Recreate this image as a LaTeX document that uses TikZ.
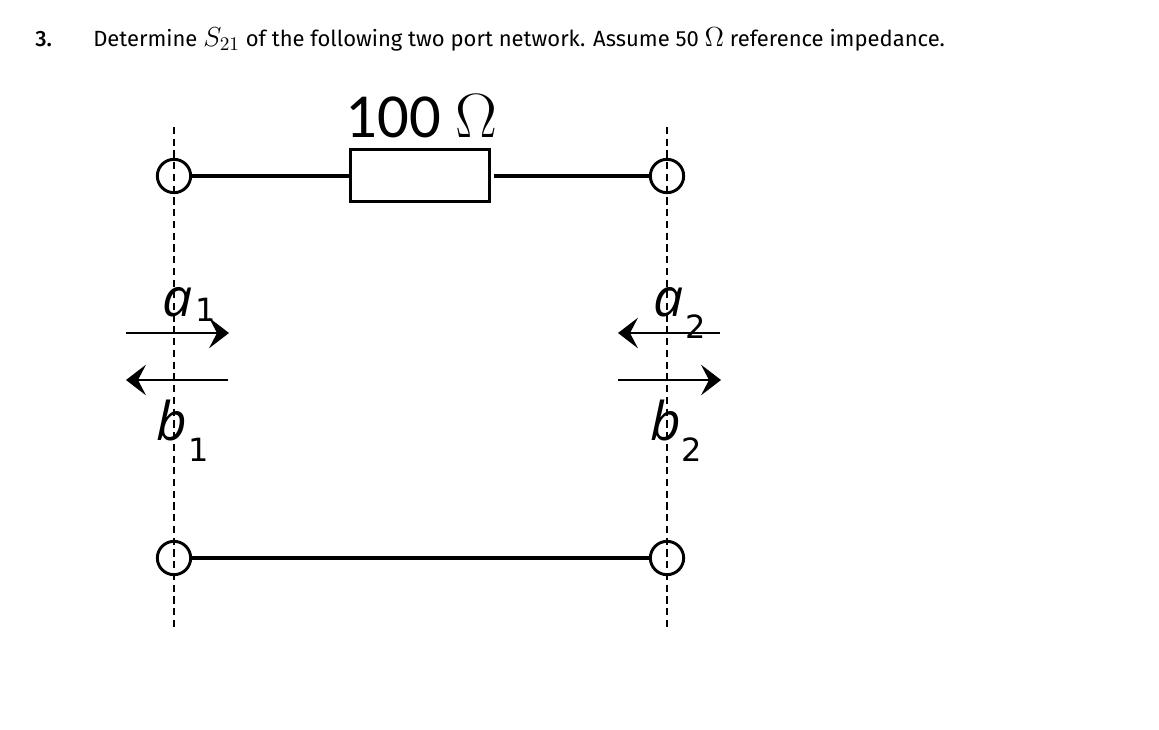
\RequirePackage{fix-cm}
\documentclass[tikz,border=0pt]{standalone}
\usepackage{fontspec}
\usepackage{amsmath}
\usepackage{graphicx}
\setmainfont{Fira Sans}[BoldFont={Fira Sans Medium}]
\newfontfamily\carl{Carlito}
\newfontfamily\dv{DejaVu Sans}
\newfontfamily\osans{Open Sans}
\usetikzlibrary{arrows.meta}
\tikzset{
  x=0.75pt,y=-0.75pt,
  port/.style={circle,draw,line width=2.2pt,minimum size=25pt,inner sep=0pt},
  wire/.style={line width=3pt},
  refline/.style={line width=1.1pt,dash pattern=on 5.4pt off 3.4pt},
  wave/.style={line width=1.1pt,-{Stealth[length=15pt,width=23pt,inset=6pt]}},
  txt/.style={inner sep=0pt,anchor=base west,font=\fontsize{16.5}{20}\selectfont},
  sym/.style={inner sep=0pt,font=\osans\itshape\fontsize{40}{46}\selectfont},
  sub/.style={inner sep=0pt,font=\dv\fontsize{24}{28}\selectfont},
}
\begin{document}
\begin{tikzpicture}
\useasboundingbox (0,0) rectangle (1159,729);
\fill[white] (0,0) rectangle (1159,729);
\node[txt,font=\bfseries\fontsize{16.6}{20}\selectfont] (num) at (35,46) {3.};
\node[txt] (q) at (93,46) {Determine \scalebox{1.25}{$S_{21}$} of the following two port network. Assume 50 \scalebox{1.25}{$\Omega$} reference impedance.};
\node[inner sep=0pt,font=\fontsize{47}{50}\selectfont] (rl) at (421.5,116) {\carl 100 $\Omega$};
\coordinate (t1) at (174,127); \coordinate (d1) at (174,628);
\coordinate (t2) at (667,127); \coordinate (d2) at (667,628);
\draw[refline] (t1) -- (d1);
\draw[refline] (t2) -- (d2);
\node[port] (p1) at (174,176) {};
\node[port] (p2) at (667,176) {};
\node[port] (p3) at (174,558) {};
\node[port] (p4) at (667,558) {};
\node[draw,line width=1.8pt,minimum width=104pt,minimum height=39pt,inner sep=0pt] (R) at (420,175.5) {};
\coordinate (rr) at (494,176);
\draw[wire] (p1.east) -- (R.west |- p1.east);
\draw[wire] (rr) -- (p2.west);
\draw[wire] (p3) -- (p4);
\coordinate (a1s) at (126,333); \coordinate (a1e) at (229,333);
\coordinate (b1s) at (228,380); \coordinate (b1e) at (126,380);
\coordinate (a2s) at (720,333); \coordinate (a2e) at (618,333);
\coordinate (b2s) at (618,380); \coordinate (b2e) at (721,380);
\draw[wave] (a1s) -- (a1e);
\draw[wave] (b1s) -- (b1e);
\draw[wave] (a2s) -- (a2e);
\draw[wave] (b2s) -- (b2e);
\node[sym] (la1) at (177.5,302) {a};
\node[sub] (la1s) at (206,310) {1};
\node[sym] (lb1) at (171.5,420) {b};
\node[sub] (lb1s) at (199,450) {1};
\node[sym] (la2) at (668.5,302) {a};
\node[sub] (la2s) at (696,327) {2};
\node[sym] (lb2) at (666,420) {b};
\node[sub] (lb2s) at (692,450) {2};
\end{tikzpicture}
\end{document}
